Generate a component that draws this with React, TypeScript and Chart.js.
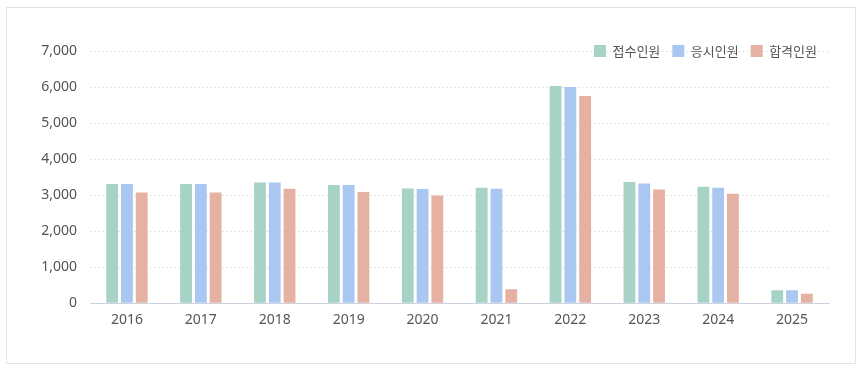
import React, { useEffect, useRef } from "react";
import { Chart, registerables } from "chart.js";

Chart.register(...registerables);

const years = ["2016", "2017", "2018", "2019", "2020", "2021", "2022", "2023", "2024", "2025"];
const applicants = [3306, 3306, 3352, 3278, 3185, 3204, 6028, 3361, 3231, 361];
const examinees = [3306, 3306, 3352, 3278, 3167, 3176, 6000, 3324, 3204, 361];
const passers = [3075, 3075, 3175, 3083, 2990, 390, 5750, 3157, 3037, 259];
const seriesLabels = ["접수인원", "응시인원", "합격인원"];
const seriesColors = ["#a6d3c5", "#a9c7f0", "#e5b1a2"];

export default function App() {
  const ref = useRef<HTMLCanvasElement | null>(null);

  useEffect(() => {
    if (!ref.current) return;
    const legendHeightPlugin = {
      id: "legendHeight",
      beforeInit(chart: any) {
        const lg = chart.legend;
        if (!lg) return;
        const orig = lg.fit;
        lg.fit = function () {
          orig.call(lg);
          lg.height = 18.5;
        };
        lg.draw = function () {
          if (lg.options.display) lg._draw();
        };
      },
    };
    const chart = new Chart(ref.current, {
      type: "bar",
      data: {
        labels: years,
        datasets: [applicants, examinees, passers].map((d, i) => ({
          label: seriesLabels[i],
          data: d,
          backgroundColor: seriesColors[i],
          borderWidth: 0,
          barPercentage: 0.8,
          categoryPercentage: 0.6,
        })),
      },
      options: {
        animation: false,
        responsive: false,
        maintainAspectRatio: false,
        layout: { padding: { left: 0, right: 26, top: 24.5, bottom: 27 } },
        plugins: {
          tooltip: { enabled: false },
          legend: {
            position: "top",
            align: "end",
            labels: {
              boxWidth: 12,
              boxHeight: 12,
              padding: 12,
              color: "#555",
              font: { family: "'Noto Sans CJK KR', 'Noto Sans', sans-serif", size: 13 },
            },
          },
        },
        scales: {
          x: {
            grid: { display: false, drawTicks: false },
            border: { display: true, color: "#cdd2de", width: 1 },
            ticks: {
              padding: 8,
              color: "#555",
              font: { family: "'Noto Sans', sans-serif", size: 14 },
            },
          },
          y: {
            min: 0,
            max: 7000,
            afterFit(scale: any) {
              scale.width = 83;
            },
            grid: { color: "#e6e6e6", drawTicks: false, lineWidth: 1 },
            border: { display: false, dash: [2, 2] },
            ticks: {
              stepSize: 1000,
              padding: 13,
              color: "#555",
              font: { family: "'Noto Sans', sans-serif", size: 14 },
              callback: (v: any) => Number(v).toLocaleString("en-US"),
            },
          },
        },
      },
      plugins: [legendHeightPlugin],
    });
    return () => chart.destroy();
  }, []);

  return (
    <div
      style={{
        position: "absolute",
        left: 6,
        top: 7,
        width: 850,
        height: 357,
        border: "1px solid #e3e3e3",
        boxSizing: "border-box",
        background: "#fff",
      }}
    >
      <canvas ref={ref} width={848} height={355} style={{ display: "block", width: 848, height: 355 }} />
    </div>
  );
}
